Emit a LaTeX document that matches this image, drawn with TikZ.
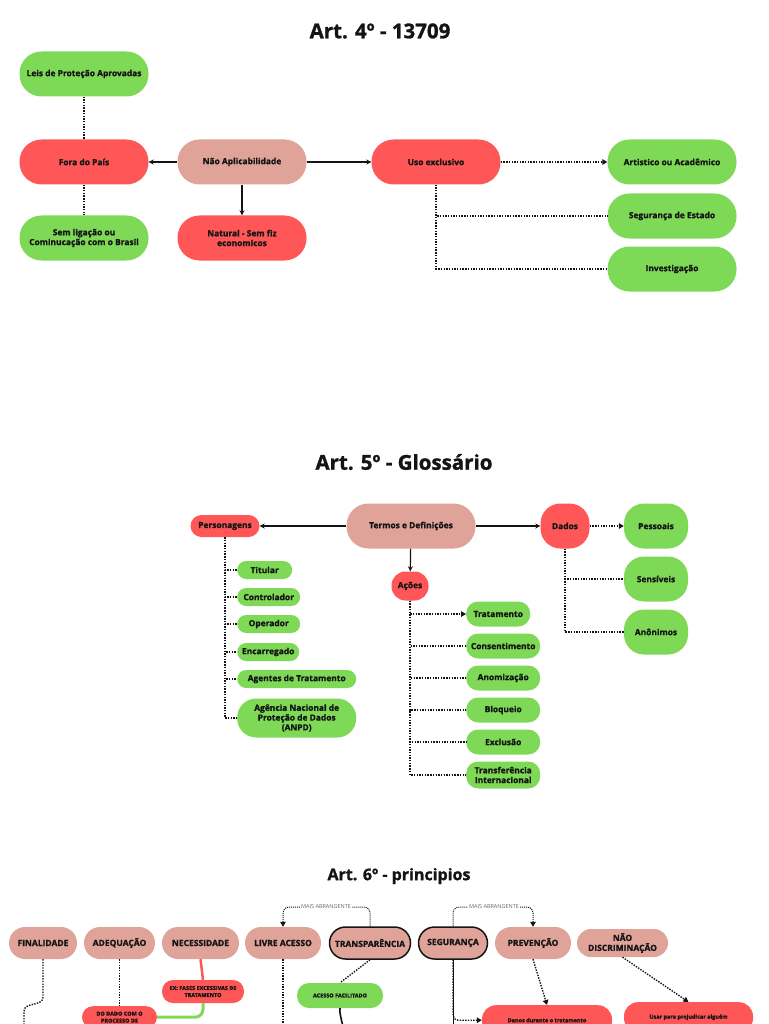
\documentclass[tikz,border=0pt]{standalone}
\usepackage{fontspec}
\setmainfont{Open Sans}[BoldFeatures={FakeBold=1.2}]
\usetikzlibrary{arrows.meta}
\definecolor{verde}{HTML}{7ED957}
\definecolor{vermelho}{HTML}{FF5757}
\definecolor{rosa}{HTML}{E0A399}
\definecolor{tinta}{HTML}{141414}

\begin{document}
\begin{tikzpicture}
  [x=1pt, y=1pt,
   caixa/.style={rectangle, inner sep=0pt, align=center, text=tinta,
     font=\bfseries\fontsize{8.4}{9.8}\selectfont},
   grande/.style={caixa, minimum width=129, minimum height=45, rounded corners=22},
   mini/.style={caixa, minimum height=18, rounded corners=9, anchor=west},
   medio/.style={caixa, minimum width=74, minimum height=25, rounded corners=12, anchor=west},
   linha/.style={caixa, minimum height=32, rounded corners=16, font=\bfseries\fontsize{8.5}{10}\selectfont},
   pequeno/.style={caixa, font=\bfseries\fontsize{5.5}{7}\selectfont},
   gfill/.style={fill=verde},
   rfill/.style={fill=vermelho},
   pfill/.style={fill=rosa},
   borda/.style={draw=tinta, line width=1.5pt},
   titulo/.style={font=\bfseries\fontsize{20.5}{24}\selectfont, text=tinta},
   nota/.style={font=\fontsize{5.5}{6}\selectfont, text=black!60, inner sep=1pt},
   seta/.style={-{Stealth[length=5pt,width=5pt]}, line width=1.2pt, draw=tinta},
   pontos/.style={line width=1.4pt, dash pattern=on 1.4pt off 1.3pt, draw=tinta},
   fino/.style={line width=1pt, dash pattern=on 1pt off 1pt, draw=tinta},
   ponta/.style={-{Triangle[length=5pt,width=5.5pt]}}]
  \useasboundingbox[fill=white] (0,0) rectangle (768,-1024);
  \clip (0,0) rectangle (768,-1024);

  % Art. 4
  \node[titulo] (t4) at (380,-31) {Art. 4º - 13709};
  \node[grande,gfill] (leis) at (84,-74) {Leis de Proteção Aprovadas};
  \node[grande,rfill] (fora) at (84,-162) {Fora do País};
  \node[grande,gfill] (semlig) at (84,-238) {Sem ligação ou\\Cominucação com o Brasil};
  \node[grande,pfill] (naoapl) at (242,-162) {Não Aplicabilidade};
  \node[grande,rfill] (natural) at (242,-238) {Natural - Sem fiz\\economicos};
  \node[grande,rfill] (uso) at (436,-162) {Uso exclusivo};
  \node[grande,gfill] (artist) at (672,-162) {Artistico ou Acadêmico};
  \node[grande,gfill] (segest) at (672,-216) {Segurança de Estado};
  \node[grande,gfill] (invest) at (672,-269) {Investigação};

  \foreach \from/\to in {naoapl/fora,naoapl/uso,naoapl/natural}
  \draw[seta] (\from) -- (\to);
  \draw[pontos] (leis) -- (fora);
  \draw[pontos] (fora) -- (semlig);
  \draw[pontos,ponta] (uso) -- (artist);
  \foreach \to in {segest,invest}
  \draw[pontos] (uso.south) |- (\to.west);

  % Art. 5
  \node[titulo] (t5) at (404,-462) {Art. 5º - Glossário};
  \node[grande,pfill] (termos) at (411,-526) {Termos e Definições};
  \node[caixa,rfill,minimum width=69,minimum height=22,rounded corners=11] (pers) at (225,-526) {Personagens};
  \node[caixa,rfill,minimum width=49,minimum height=45,rounded corners=20] (dados) at (565,-526) {Dados};
  \node[caixa,rfill,minimum width=37,minimum height=29,rounded corners=14] (acoes) at (410,-586) {Ações};
  \node[caixa,gfill,minimum width=64,minimum height=45,rounded corners=20] (pessoais) at (656,-526) {Pessoais};
  \node[caixa,gfill,minimum width=64,minimum height=45,rounded corners=20] (sensiveis) at (656,-579) {Sensíveis};
  \node[caixa,gfill,minimum width=64,minimum height=45,rounded corners=20] (anonimos) at (656,-632) {Anônimos};

  \node[mini,gfill,minimum width=55] (titular) at (237,-570) {Titular};
  \node[mini,gfill,minimum width=63] (control) at (237,-597) {Controlador};
  \node[mini,gfill,minimum width=63] (operador) at (237,-624) {Operador};
  \node[mini,gfill,minimum width=62] (encarr) at (237,-652) {Encarregado};
  \node[mini,gfill,minimum width=119] (agentes) at (237,-679) {Agentes de Tratamento};
  \node[mini,gfill,minimum width=119,minimum height=39,rounded corners=19] (anpd) at (237,-718) {Agência Nacional de\\Proteção de Dados\\(ANPD)};

  \node[medio,gfill,minimum width=64] (tratam) at (466,-614) {Tratamento};
  \node[medio,gfill] (consent) at (466,-646) {Consentimento};
  \node[medio,gfill] (anomiz) at (466,-678) {Anomização};
  \node[medio,gfill] (bloqueio) at (466,-710) {Bloqueio};
  \node[medio,gfill] (exclusao) at (466,-742) {Exclusão};
  \node[medio,gfill,minimum height=27] (transf) at (466,-775) {Transferência\\Internacional};

  \foreach \to in {pers,dados,acoes}
  \draw[seta] (termos) -- (\to);
  \foreach \to in {titular,control,operador,encarr,agentes,anpd}
  \draw[pontos] (pers.south) |- (\to.west);
  \draw[pontos,ponta] (acoes.south) |- (tratam.west);
  \foreach \to in {consent,anomiz,bloqueio,exclusao,transf}
  \draw[pontos] (acoes.south) |- (\to.west);
  \draw[pontos,ponta] (dados) -- (pessoais);
  \foreach \to in {sensiveis,anonimos}
  \draw[pontos] (dados.south) |- (\to.west);

  % Art. 6
  \node[titulo,font=\bfseries\fontsize{16}{19}\selectfont] (t6) at (399,-876) {Art. 6º - principios};
  \node[linha,pfill,minimum width=68] (fin) at (43,-943) {FINALIDADE};
  \node[linha,pfill,minimum width=71] (adeq) at (119.5,-943) {ADEQUAÇÃO};
  \node[linha,pfill,minimum width=77] (nec) at (200.5,-943) {NECESSIDADE};
  \node[linha,pfill,minimum width=76] (livre) at (283,-943) {LIVRE ACESSO};
  \node[linha,pfill,borda,minimum width=81] (transp) at (370,-943) {TRANSPARÊNCIA};
  \node[linha,pfill,borda,minimum width=69] (seg) at (453,-943) {SEGURANÇA};
  \node[linha,pfill,minimum width=76] (prev) at (533,-943) {PREVENÇÃO};
  \node[linha,pfill,minimum width=91,minimum height=28,rounded corners=14] (naodisc) at (622.5,-943) {NÃO\\DISCRIMINAÇÃO};
  \node[nota] (mais1) at (326,-907) {MAIS ABRANGENTE};
  \node[nota] (mais2) at (494,-907) {MAIS ABRANGENTE};

  \node[pequeno,rfill,minimum width=82,minimum height=23,rounded corners=11] (exfases) at (203,-991.5) {EX: FASES EXCESSIVAS DE\\TRATAMENTO};
  \node[pequeno,rfill,minimum width=75,minimum height=22,rounded corners=11,anchor=north] (dodado) at (119.5,-1006) {DO DADO COM O\\PROCESSO DE};
  \node[pequeno,gfill,minimum width=86,minimum height=25,rounded corners=12] (acesso) at (340,-995.5) {ACESSO FACILITADO};
  \node[pequeno,rfill,minimum width=130,minimum height=30,rounded corners=14,anchor=north] (danos) at (547,-1005) {Danos durante o tratamento};
  \node[pequeno,rfill,minimum width=129,minimum height=30,rounded corners=14,anchor=north] (usar) at (688.5,-1002) {Usar para prejudicar alguém};

  \coordinate (finfim) at (24,-1030);
  \coordinate (livrefim) at (283,-1030);
  \coordinate (acessofim) at (343,-1030);
  \coordinate (segfim) at (453,-1030);

  \draw[fino,rounded corners=6] (transp.north) |- (mais1.east);
  \draw[fino,ponta,rounded corners=6] (mais1.west) -| (livre.north);
  \draw[fino,rounded corners=6] (seg.north) |- (mais2.west);
  \draw[fino,ponta,rounded corners=6] (mais2.east) -| (prev.north);

  \draw[pontos] (fin.south) -- ++(0,-38) to[out=-90,in=90] ++(-19,-14) -- (finfim);
  \draw[pontos] (adeq.south) -- (dodado.north);
  \draw[vermelho,line width=2.5pt] (nec.south) -- (exfases.north);
  \draw[verde,line width=3pt,rounded corners=8] (exfases.south) |- (dodado.east);
  \draw[pontos] (livre.south) -- (livrefim);
  \draw[pontos] (transp.south) -- (acesso.north);
  \draw[tinta,line width=1.6pt] (acesso.south) to[out=-95,in=90] (acessofim);
  \draw[tinta,line width=1pt] (seg.south) -- (segfim);
  \draw[pontos,ponta,rounded corners=5] (seg.south) |- (danos.west);
  \draw[pontos,ponta] (prev.south) -- (danos.north);
  \draw[pontos,ponta] (naodisc.south) -- (usar.north);
\end{tikzpicture}
\end{document}
